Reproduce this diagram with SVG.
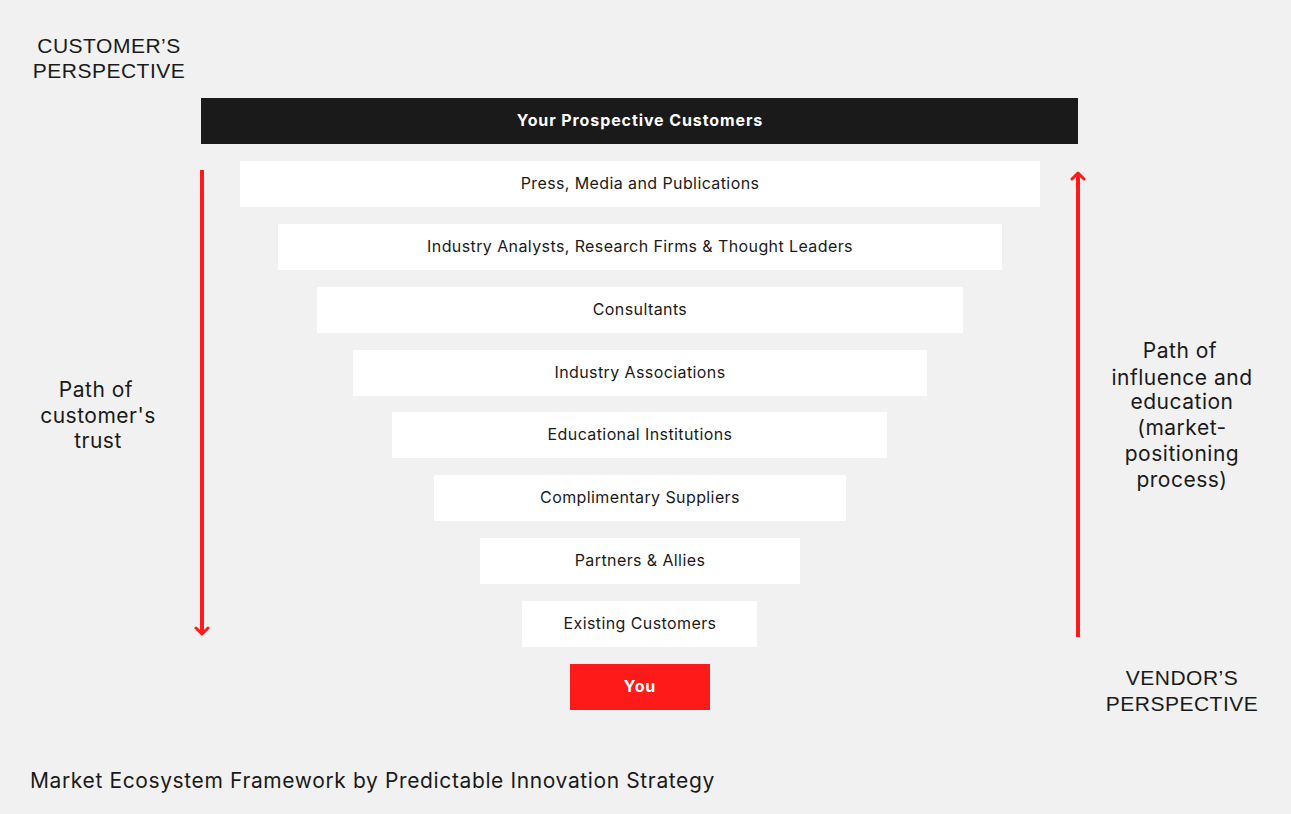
<svg xmlns="http://www.w3.org/2000/svg" width="1291" height="814" viewBox="0 0 1291 814">
<style>
.lbl{font-family:"Inter","Liberation Sans",sans-serif;font-size:21px;fill:#1a1a1a;text-anchor:middle;letter-spacing:0.5px}
.caps{font-family:"Liberation Sans","Arial",sans-serif;font-size:21px;fill:#1a1a1a;text-anchor:middle;letter-spacing:0.5px}
.node rect{fill:#ffffff}
.node text{font-family:"Inter","Liberation Sans",sans-serif;font-size:16px;fill:#1a1a1a;text-anchor:middle;letter-spacing:0.4px}
.bold text{font-weight:700;fill:#ffffff;letter-spacing:0.9px}
.arr{stroke:#ff1a1a;stroke-width:4;fill:none}
</style>
<defs>
<marker id="ah2" markerWidth="16" markerHeight="16" refX="8" refY="8" orient="auto" markerUnits="userSpaceOnUse">
<path d="M2,2 L8,8 L2,14" stroke="#ff1a1a" stroke-width="3" fill="none" stroke-linecap="round" stroke-linejoin="round"/>
</marker>
</defs>
<rect x="0" y="0" width="1291" height="814" fill="#f1f1f1"/>
<text class="caps" x="109" y="53">CUSTOMER’S</text>
<text class="caps" x="109" y="78">PERSPECTIVE</text>
<text class="lbl" x="96" y="397">Path of</text>
<text class="lbl" x="98" y="423">customer's</text>
<text class="lbl" x="98" y="448">trust</text>
<text class="lbl" x="1180" y="358">Path of</text>
<text class="lbl" x="1182" y="385">influence and</text>
<text class="lbl" x="1182" y="409">education</text>
<text class="lbl" x="1182" y="435">(market-</text>
<text class="lbl" x="1182" y="461">positioning</text>
<text class="lbl" x="1182" y="487">process)</text>
<text class="caps" x="1182" y="685">VENDOR’S</text>
<text class="caps" x="1182" y="711">PERSPECTIVE</text>
<text class="lbl" x="30" y="788" style="text-anchor:start;letter-spacing:0.62px">Market Ecosystem Framework by Predictable Innovation Strategy</text>
<g id="connectors">
<line class="arr" x1="202" y1="170" x2="202" y2="634" marker-end="url(#ah2)"/>
<line class="arr" x1="1078" y1="637" x2="1078" y2="173" marker-end="url(#ah2)"/>
</g>
<g id="n0" class="node bold"><rect x="201" y="98" width="877" height="46" style="fill:#1a1a1a"/><text x="640" y="126">Your Prospective Customers</text></g>
<g id="n1" class="node"><rect x="240" y="161" width="800" height="46"/><text x="640" y="189">Press, Media and Publications</text></g>
<g id="n2" class="node"><rect x="278" y="224" width="724" height="46"/><text x="640" y="252">Industry Analysts, Research Firms &amp; Thought Leaders</text></g>
<g id="n3" class="node"><rect x="317" y="287" width="646" height="46"/><text x="640" y="315">Consultants</text></g>
<g id="n4" class="node"><rect x="353" y="350" width="574" height="46"/><text x="640" y="378">Industry Associations</text></g>
<g id="n5" class="node"><rect x="392" y="412" width="495" height="46"/><text x="640" y="440">Educational Institutions</text></g>
<g id="n6" class="node"><rect x="434" y="475" width="412" height="46"/><text x="640" y="503">Complimentary Suppliers</text></g>
<g id="n7" class="node"><rect x="480" y="538" width="320" height="46"/><text x="640" y="566">Partners &amp; Allies</text></g>
<g id="n8" class="node"><rect x="522" y="601" width="235" height="46"/><text x="640" y="629">Existing Customers</text></g>
<g id="n9" class="node bold"><rect x="570" y="664" width="140" height="46" style="fill:#ff1a1a"/><text x="640" y="692">You</text></g>
</svg>
